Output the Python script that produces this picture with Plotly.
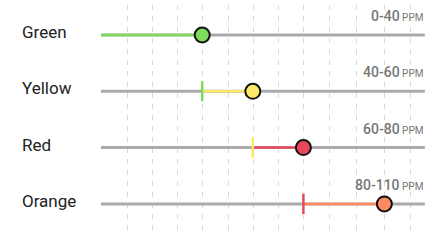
import plotly.graph_objects as go

categories = ["Green", "Yellow", "Red", "Orange"]
range_labels = ["0-40", "40-60", "60-80", "80-110"]
start_values = [0, 40, 60, 80]      # start of coloured segment / tick
current_values = [40, 60, 80, 112]  # circle position
axis_min = 0
axis_max = 128
grid_values = [10.5, 20.4, 30.2, 40, 50.3, 60.4, 70.2, 80.1, 90.2, 101, 112, 122.4]
colors = ["#7ddc5a", "#f9e964", "#e8475e", "#ff8a62"]

fig = go.Figure()

for i, cat in enumerate(categories):
    fig.add_trace(go.Scatter(x=[axis_min, axis_max], y=[i, i], mode="lines",
                             line=dict(color="#aaaaaa", width=3), hoverinfo="skip"))
    fig.add_trace(go.Scatter(x=[start_values[i], current_values[i]], y=[i, i], mode="lines",
                             line=dict(color=colors[i], width=2.5), hoverinfo="skip"))
    if i > 0:
        fig.add_trace(go.Scatter(x=[start_values[i], start_values[i]], y=[i - 0.18, i + 0.18],
                                 mode="lines", line=dict(color=colors[i - 1], width=2.5),
                                 hoverinfo="skip"))
    fig.add_trace(go.Scatter(x=[current_values[i]], y=[i], mode="markers",
                             marker=dict(color=colors[i], size=15,
                                         line=dict(color="#111111", width=2)),
                             hoverinfo="skip"))
    fig.add_annotation(x=20 / 445, xref="paper", y=i, yref="y", text=cat,
                       xanchor="left", yanchor="middle", showarrow=False, yshift=3,
                       font=dict(family="Roboto", size=17, color="#222222"))
    fig.add_annotation(x=axis_max, xref="x", y=i, yref="y",
                       text=f"{range_labels[i]}<span style='font-size:10px;font-weight:400'> PPM</span>",
                       xanchor="right", yanchor="middle", showarrow=False, yshift=19,
                       font=dict(family="Roboto", size=14, color="#777777", weight=500))

px0 = 101.0
ppu = 2.53
fig.update_layout(
    width=445, height=247,
    margin=dict(l=0, r=0, t=5, b=12),
    paper_bgcolor="white", plot_bgcolor="white",
    showlegend=False,
    xaxis=dict(range=[(0 - px0) / ppu, (445 - px0) / ppu], tickvals=grid_values,
               showticklabels=False, showgrid=True, gridcolor="#d9d9d9", gridwidth=1,
               griddash="5px,6px", zeroline=False, showline=False, ticks=""),
    yaxis=dict(range=[(235 - 35) / 56.3, (5 - 35) / 56.3], showgrid=False,
               showticklabels=False, zeroline=False, showline=False),
)

fig.write_html("out.html")
